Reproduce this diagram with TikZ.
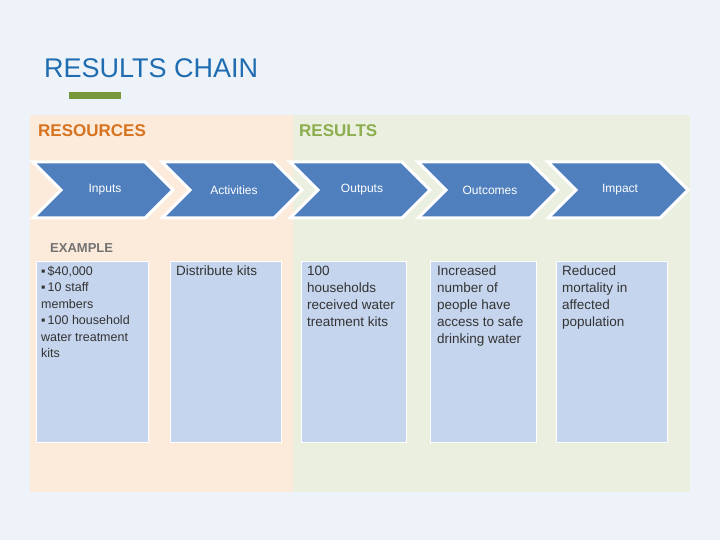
\documentclass[tikz,border=0pt]{standalone}
\usepackage{fontspec}
\setmainfont{Liberation Sans}
\definecolor{bg}{HTML}{EEF3FA}
\definecolor{peach}{HTML}{FCEADB}
\definecolor{lgreen}{HTML}{EAEFDF}
\definecolor{chev}{HTML}{4F7FBD}
\definecolor{boxc}{HTML}{C6D5EE}
\definecolor{titleblue}{HTML}{1F6CB0}
\definecolor{orng}{HTML}{D7731F}
\definecolor{grn}{HTML}{8CAE4E}
\definecolor{gbar}{HTML}{78963A}
\begin{document}
\begin{tikzpicture}[x=1pt,y=-1pt,
  chevs/.style={fill=chev,draw=white,line width=3pt,line join=miter},
  clabel/.style={text=white,font=\fontsize{12}{14}\selectfont},
  bx/.style={fill=boxc,draw=white,line width=0.8pt,anchor=north west,inner sep=0pt},
  btext/.style={anchor=north west,align=left,font=\fontsize{13.5}{16.8}\selectfont,text=black!80,inner sep=0pt}]
\fill[bg] (0,0) rectangle (720,540);
\useasboundingbox (0,0) rectangle (720,540);
\node[anchor=base west,text=titleblue,font=\fontsize{27}{30}\selectfont,inner sep=0pt] (title) at (44,78) {RESULTS CHAIN};
\fill[gbar] (69,92) rectangle (121,99);
\fill[peach] (30,115) rectangle (293,492);
\fill[lgreen] (293,115) rectangle (690,492);
\node[anchor=base west,text=orng,font=\bfseries\fontsize{17}{20}\selectfont,inner sep=0pt] (res) at (38,137) {RESOURCES};
\node[anchor=base west,text=grn,font=\bfseries\fontsize{17}{20}\selectfont,inner sep=0pt] (rlt) at (299,137) {RESULTS};
\foreach \x/\t/\n in {33/Inputs/c1,162/Activities/c2,290/Outputs/c3,418/Outcomes/c4,548/Impact/c5}{
  \draw[chevs] (\x,162) -- (\x+112,162) -- (\x+140,190) -- (\x+112,218) -- (\x,218) -- (\x+28,190) -- cycle;
  \node[clabel] (\n) at (\x+72,190) {\t};
}
\node[anchor=base west,text=black!55,font=\bfseries\fontsize{13}{15}\selectfont,inner sep=0pt] (ex) at (50,252) {EXAMPLE};
\node[bx,minimum width=112pt,minimum height=181pt] (b1) at (36,261) {};
\node[bx,minimum width=111pt,minimum height=181pt] (b2) at (170,261) {};
\node[bx,minimum width=105pt,minimum height=181pt] (b3) at (301,261) {};
\node[bx,minimum width=106pt,minimum height=181pt] (b4) at (430,261) {};
\node[bx,minimum width=111pt,minimum height=181pt] (b5) at (556,261) {};
\node[btext,font=\fontsize{12.5}{16.5}\selectfont] (t1) at (41,266) {▪\,\$40,000\\▪\,10 staff\\members\\▪\,100 household\\water treatment\\kits};
\node[btext] (t2) at (176,266) {Distribute kits};
\node[btext] (t3) at (307,266) {100\\households\\received water\\treatment kits};
\node[btext] (t4) at (437,266) {Increased\\number of\\people have\\access to safe\\drinking water};
\node[btext] (t5) at (562,266) {Reduced\\mortality in\\affected\\population};
\end{tikzpicture}
\end{document}
